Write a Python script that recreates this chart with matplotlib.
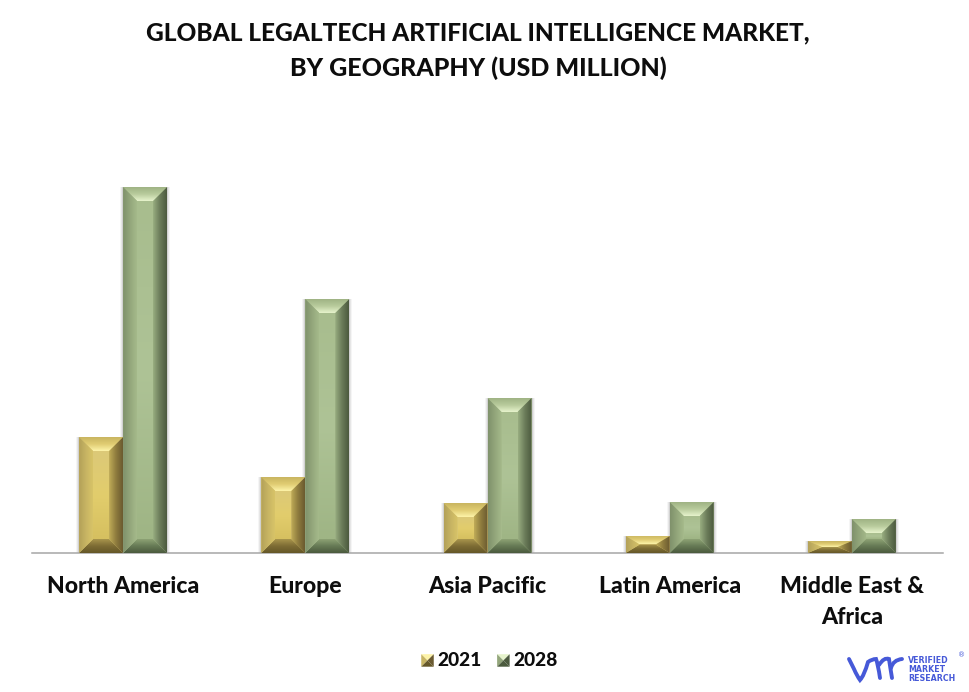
import numpy as np
import matplotlib
matplotlib.use("Agg")
import matplotlib.pyplot as plt
from matplotlib.patches import Polygon, Rectangle
from matplotlib.legend_handler import HandlerBase
from matplotlib.path import Path
from matplotlib.patches import PathPatch
from matplotlib.colors import to_rgb

categories = ["North America", "Europe", "Asia Pacific", "Latin America", "Middle East &\nAfrica"]
series_names = ["2021", "2028"]
values_2021 = [116, 76, 50, 17, 12]
values_2028 = [366, 254, 155, 51, 34]
title_lines = ["GLOBAL LEGALTECH ARTIFICIAL INTELLIGENCE MARKET,", "BY GEOGRAPHY (USD MILLION)"]

W, H = 970, 692
plt.rcParams["font.family"] = ["Lato", "DejaVu Sans"]
plt.rcParams["font.weight"] = "bold"
fig = plt.figure(figsize=(W / 100, H / 100), dpi=100)
ax = fig.add_axes([32 / W, 1 - 553 / H, 911 / W, 410 / H])
ax.set_xlim(-0.5, 4.5)
ax.set_ylim(0, 410)
for s in ["top", "left", "right"]:
    ax.spines[s].set_visible(False)
ax.spines["bottom"].set_color("#a6a6a6")
ax.spines["bottom"].set_linewidth(1.1)
ax.set_yticks([])
ax.set_xticks(range(len(categories)))
ax.set_xticklabels(categories, fontsize=16.6, fontweight="black", color="#0d0d0d", linespacing=1.6)
ax.tick_params(axis="x", length=0, pad=16.3)

BAR_W = 44 / 182.2
BEV_X = 14 / 182.2
BEV_Y = 14.0

PAL = {
    "2021": dict(front=["#dcc978", "#e2cd6c", "#d6c060"], top=["#c9b560", "#e0cc72", "#fdf3a8"],
                 left=["#b3a158", "#c7b463", "#d8c468"], right=["#6a5a30", "#8f7c3e", "#c0ac58"],
                 bottom=["#a8954c", "#7d6c34", "#655728"]),
    "2028": dict(front=["#a8bd8e", "#aec396", "#9fb585"], top=["#9fb384", "#b8cb9c", "#e6f3cc"],
                 left=["#7f916b", "#93a67b", "#a5ba8b"], right=["#4b593e", "#6b7c5a", "#98ad80"],
                 bottom=["#8da274", "#667a55", "#4b5a3e"]),
}


def ramp(cols, n=64):
    c = np.array([to_rgb(k) for k in cols])
    t = np.linspace(0, len(c) - 1, n)
    i = np.minimum(t.astype(int), len(c) - 2)
    f = (t - i)[:, None]
    return c[i] * (1 - f) + c[i + 1] * f


def face(pts, cols, vertical, zorder=3):
    xs, ys = zip(*pts)
    g = ramp(cols)
    arr = g[:, None, :] if vertical else g[None, :, :]
    im = ax.imshow(arr, extent=(min(xs), max(xs), min(ys), max(ys)), origin="upper",
                   aspect="auto", interpolation="bilinear", zorder=zorder)
    clip = Polygon(pts, closed=True, transform=ax.transData, facecolor="none", edgecolor="none")
    ax.add_patch(clip)
    im.set_clip_path(clip)


def bevel_bar(x0, h, name):
    p = PAL[name]
    x1 = x0 + BAR_W
    by = min(BEV_Y, h / 2)
    bx = BEV_X
    # soft shadow beside the bar
    for k, a in zip((3, 2, 1), (0.04, 0.06, 0.09)):
        ax.add_patch(Rectangle((x0 - k / 182.2, 0), BAR_W + 2 * k / 182.2, h,
                               facecolor="black", alpha=a, edgecolor="none", zorder=2))
    ax.add_patch(Rectangle((x0, 0), BAR_W, h, facecolor=p["front"][0], edgecolor="none", zorder=2.5))
    face([(x0 + bx, by), (x1 - bx, by), (x1 - bx, h - by), (x0 + bx, h - by)], p["front"], True)
    face([(x0, h), (x1, h), (x1 - bx, h - by), (x0 + bx, h - by)], p["top"], True)
    face([(x0, 0), (x1, 0), (x1 - bx, by), (x0 + bx, by)], p["bottom"], True)
    face([(x0, 0), (x0 + bx, by), (x0 + bx, h - by), (x0, h)], p["left"], False)
    face([(x1, 0), (x1 - bx, by), (x1 - bx, h - by), (x1, h)], p["right"][::-1], False)


for i, (a, b) in enumerate(zip(values_2021, values_2028)):
    bevel_bar(i - BAR_W, a, "2021")
    bevel_bar(i, b, "2028")
ax.set_xlim(-0.5, 4.5)
ax.set_ylim(0, 410)

for y, line, size in zip((33, 68), title_lines, (17.6, 18.0)):
    fig.text(478 / W, 1 - y / H, line, ha="center", va="center", fontsize=size, fontweight="black",
             color="#0d0d0d")


class PyramidHandler(HandlerBase):
    def create_artists(self, legend, orig, xd, yd, w, h, fontsize, trans):
        p = PAL[orig.get_label()]
        s = 9.0
        x0, y0 = w - s, -0.5
        c = (x0 + s / 2, y0 + s / 2)
        tl, tr = (x0, y0 + s), (x0 + s, y0 + s)
        bl, br = (x0, y0), (x0 + s, y0)
        out = []
        for pts, col in (((tl, tr, c), p["top"][2]), ((tl, bl, c), p["left"][1]),
                         ((tr, br, c), p["right"][0]), ((bl, br, c), p["bottom"][2])):
            out.append(Polygon(pts, closed=True, facecolor=col, edgecolor="none", transform=trans))
        return out


handles = [Rectangle((0, 0), 1, 1, label=n) for n in series_names]
leg = fig.legend(handles=handles, labels=series_names, handler_map={Rectangle: PyramidHandler()},
                 loc="center", bbox_to_anchor=(489.5 / W, 1 - 660.5 / H), ncol=2, frameon=False,
                 prop={"family": "Lato", "weight": "black", "size": 13.8},
                 handlelength=0.65, handletextpad=0.2, columnspacing=0.8, labelcolor="#0d0d0d")

# publisher mark, drawn in figure pixel space
BLUE = "#4659d8"
tr = matplotlib.transforms.Affine2D().scale(1 / W, -1 / H).translate(0, 1) + fig.transFigure
strokes = [
    ([(849, 659), (854, 669), (857, 676), (860, 680), (864, 676), (868, 662), (872, 659), (876, 659), (878, 664), (880, 678)],
     [Path.MOVETO, Path.LINETO, Path.CURVE3, Path.CURVE3, Path.CURVE3, Path.CURVE3, Path.CURVE3, Path.CURVE3, Path.CURVE3, Path.CURVE3]),
    ([(879, 665), (884, 657), (889, 659), (890, 666), (892, 678)],
     [Path.MOVETO, Path.CURVE3, Path.CURVE3, Path.CURVE3, Path.CURVE3]),
    ([(891, 668), (893, 660), (902, 659)],
     [Path.MOVETO, Path.CURVE3, Path.CURVE3]),
]
for v, cc in strokes:
    fig.add_artist(PathPatch(Path(v, cc), fill=False, edgecolor=BLUE, lw=2.8, transform=tr, capstyle="round"))
for y, t in zip((660.5, 669.5, 678.5), ("VERIFIED", "MARKET", "RESEARCH")):
    fig.text(908 / W, 1 - y / H, t, color=BLUE, fontsize=5.7, fontweight="bold", va="center", ha="left",
             family="DejaVu Sans")
fig.text(958 / W, 1 - 655 / H, "®", color=BLUE, fontsize=5, va="center", ha="left", family="DejaVu Sans",
         fontweight="normal")

fig.savefig("out.png", dpi=100)
